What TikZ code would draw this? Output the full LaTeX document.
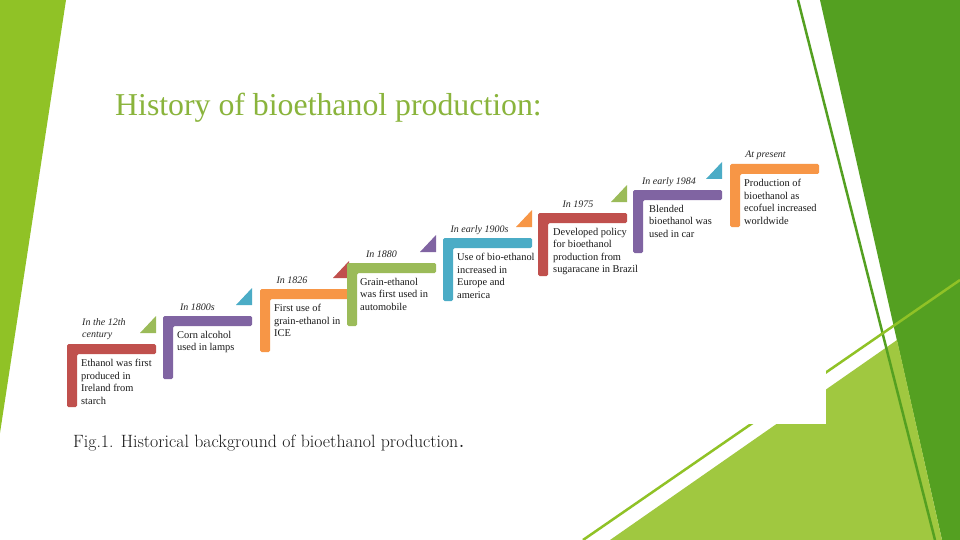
\documentclass[tikz,border=0pt]{standalone}
\usepackage{fontspec}
\setmainfont{Liberation Serif}
\newfontfamily\capfont{Latin Modern Roman}
\definecolor{facetgreen}{HTML}{90C226}
\definecolor{facetdark}{HTML}{54A021}
\definecolor{facetlight}{RGB}{160,200,64}
\definecolor{titlegreen}{RGB}{138,180,60}
\definecolor{barred}{HTML}{C0504D}
\definecolor{barpurple}{HTML}{8064A2}
\definecolor{barorange}{HTML}{F79646}
\definecolor{bargreen}{HTML}{9BBB59}
\definecolor{barblue}{HTML}{4BACC6}
\def\lbar[#1](#2,#3){\fill[#1,rounded corners=1.5pt] (#2,#3) -- ++(89,0) -- ++(0,10) -- ++(-79,0) -- ++(0,53) -- ++(-10,0) -- cycle;}
\def\tri[#1](#2,#3){\fill[#1] (#2,#3) -- ++(0,-17) -- ++(-16,17) -- cycle;}
\tikzset{
  steptext/.style={anchor=north west, inner sep=0pt, align=left, text=black!90,
    font=\fontsize{10.4}{12.5}\selectfont},
  steplabel/.style={anchor=base, inner sep=0pt, align=left, text=black!85,
    font=\itshape\fontsize{10}{12}\selectfont}
}

\begin{document}
\begin{tikzpicture}[x=1pt,y=-1pt]
			%%%%% START %%%%%
			\useasboundingbox (0,0) rectangle (960,540);
			\fill[white] (0,0) rectangle (960,540);
			
			% slide background
			\fill[facetgreen] (0,0) -- (66,0) -- (0,433) -- cycle;
			\fill[facetdark] (820,0) -- (960,0) -- (960,540) -- (942,540) -- cycle;
			\fill[facetlight] (610,540) -- (897,340) -- (942,540) -- cycle;
			\draw[line width=2.5pt, color=facetdark] (798,0) -- (935,540);
			\draw[line width=2.5pt, color=facetgreen] (583,540) -- (960,280);
			
			% picture area
			\fill[white] (66,140) rectangle (826,424);
			
			\node[anchor=base west, inner sep=0pt, text=titlegreen, font=\fontsize{31.8}{36}\selectfont] (title) at (115,116) {History of bioethanol production:};
			
			\lbar[barred](67,344);
			\tri[bargreen](156,333);
			\node[steplabel, anchor=south west] (l1) at (82,340) {In the 12th\\century};
			\node[steptext] (t1) at (81,359) {Ethanol was first\\produced in\\Ireland from\\starch};
			
			\lbar[barpurple](163,316);
			\tri[barblue](252,305);
			\node[steplabel] (l2) at (197.5,310) {In 1800s};
			\node[steptext] (t2) at (177,331) {Corn alcohol\\used in lamps};
			
			\lbar[barorange](260,289);
			\tri[barred](349,278);
			\node[steplabel] (l3) at (292,283) {In 1826};
			\node[steptext] (t3) at (274,304) {First use of\\grain-ethanol in\\ICE};
			
			\lbar[bargreen](347,263);
			\tri[barpurple](436,252);
			\node[steplabel] (l4) at (381.5,257) {In 1880};
			\node[steptext] (t4) at (360,278) {Grain-ethanol\\was first used in\\automobile};
			
			\lbar[barblue](443,238);
			\tri[barorange](532,227);
			\node[steplabel] (l5) at (479.5,232) {In early 1900s};
			\node[steptext] (t5) at (457,253) {Use of bio-ethanol\\increased in\\Europe and\\america};
			
			\lbar[barred](538,213);
			\tri[bargreen](627,202);
			\node[steplabel] (l6) at (578,207) {In 1975};
			\node[steptext] (t6) at (553,228) {Developed policy\\for bioethanol\\production from\\sugaracane in Brazil};
			
			\lbar[barpurple](633,190);
			\tri[barblue](722,179);
			\node[steplabel] (l7) at (669,184) {In early 1984};
			\node[steptext] (t7) at (649,205) {Blended\\bioethanol was\\used in car};
			
			\lbar[barorange](730,164);
			\node[steplabel] (l8) at (765.5,158) {At present};
			\node[steptext] (t8) at (744,179) {Production of\\bioethanol as\\ecofuel increased\\worldwide};
			
			\node[anchor=base west, inner sep=0pt, text=black!90, font=\capfont\fontsize{17.8}{20}\selectfont] (cap) at (73,447) {Fig.1. Historical background of bioethanol production{\fontsize{26}{26}\selectfont .}};
			%%%%% END %%%%%
\end{tikzpicture}
\end{document}
